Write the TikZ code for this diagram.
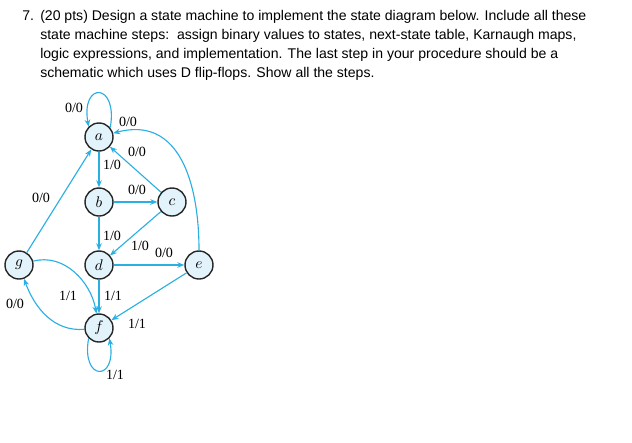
\documentclass[tikz,border=0pt]{standalone}
\usepackage{fontspec}
\setmainfont{Liberation Sans}
\newfontfamily\labelfont{Liberation Serif}
\usetikzlibrary{arrows.meta}
\definecolor{arccyan}{RGB}{41,175,226}
\definecolor{statefill}{RGB}{226,243,251}
\tikzset{
  state/.style={circle, draw=black!85, line width=1pt, fill=statefill,
    minimum size=0.7cm, inner sep=0pt, font=\fontsize{11}{13}\selectfont},
  trans/.style={draw=arccyan, line width=0.8pt, -{Stealth[length=5pt,width=4pt]}},
  lab/.style={font=\labelfont\fontsize{10}{12}\selectfont, inner sep=0pt},
  task/.style={anchor=base west, inner sep=0pt, font=\fontsize{10}{12}\selectfont},
}
\begin{document}
\begin{tikzpicture}[x=0.025cm, y=-0.025cm]
    \useasboundingbox (0,0) rectangle (632,442);

    % task text
    \node[task] (num) at (22,20) {7.};
    \node[task] (l1) at (40,20) {(20 pts) Design a state machine to implement the state diagram below. Include all these};
    \node[task] (l2) at (40,39) {state machine steps:\ \ assign binary values to states, next-state table, Karnaugh maps,};
    \node[task] (l3) at (40,58) {logic expressions, and implementation. The last step in your procedure should be a};
    \node[task] (l4) at (40,77) {schematic which uses D flip-flops. Show all the steps.};

    % states
    \node[state] (a) at (99,137) {$a$};
    \node[state] (b) at (99,202) {$b$};
    \node[state] (c) at (172,202) {$c$};
    \node[state] (g) at (19,265) {$g$};
    \node[state] (d) at (99,265) {$d$};
    \node[state] (e) at (199,265) {$e$};
    \node[state] (f) at (99,328) {$f$};

    % transitions
    \draw[trans] (a.40) .. controls +(80:1.15cm) and +(100:1.15cm) .. (a.135);
    \draw[trans] (e) to[out=90, in=15, looseness=1.2] (a);
    \draw[trans] (c) -- (a);
    \draw[trans] (a) -- (b);
    \draw[trans] (b) -- (c);
    \draw[trans] (g) -- (a);
    \draw[trans] (b) -- (d);
    \draw[trans] (c) -- (d);
    \draw[trans] (d) -- (e);
    \draw[trans] (d) -- (f);
    \draw[trans] (e) -- (f);
    \draw[trans] (g) to[out=15, in=100] (f);
    \draw[trans] (f) to[out=185, in=-70] (g);
    \draw[trans] (f.225) .. controls +(260:1.1cm) and +(280:1.1cm) .. (f.315);

    % labels
    \node[lab] (lab-aa) at (74,108) {0/0};
    \node[lab] (lab-ea) at (128,122) {0/0};
    \node[lab] (lab-ca) at (137,152) {0/0};
    \node[lab] (lab-ab) at (112,165) {1/0};
    \node[lab] (lab-bc) at (137,190) {0/0};
    \node[lab] (lab-ga) at (41,198) {0/0};
    \node[lab] (lab-bd) at (112,236) {1/0};
    \node[lab] (lab-cd) at (140,246) {1/0};
    \node[lab] (lab-de) at (164,253) {0/0};
    \node[lab] (lab-gf) at (68,296) {1/1};
    \node[lab] (lab-df) at (113,296) {1/1};
    \node[lab] (lab-fg) at (15,304) {0/0};
    \node[lab] (lab-ef) at (137,324) {1/1};
    \node[lab] (lab-ff) at (115,375) {1/1};
\end{tikzpicture}
\end{document}
